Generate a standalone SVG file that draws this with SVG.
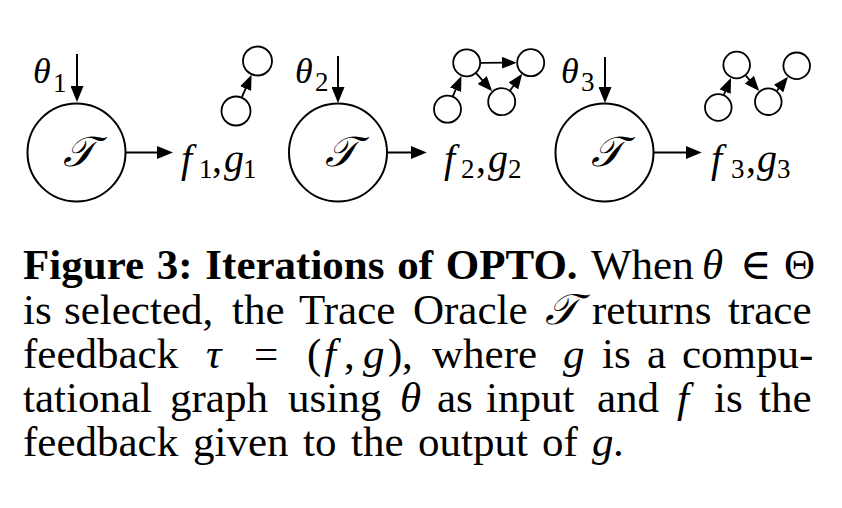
<svg xmlns="http://www.w3.org/2000/svg" width="842" height="508" viewBox="0 0 842 508">
<defs>
<style>
text{font-family:"Liberation Serif","DejaVu Serif",serif;fill:#000}
.it{font-style:italic}
.b{font-weight:bold}
.oc{fill:#fff;stroke:#000;stroke-width:2}
.sc{fill:#fff;stroke:#000;stroke-width:1.8}
.big{stroke:#000;stroke-width:2;fill:none;marker-end:url(#ah)}
.sm{stroke:#000;stroke-width:1.8;fill:none;marker-end:url(#ahs)}
.cal{font-size:42px;font-style:italic;text-anchor:middle}
.th{font-size:36px;font-style:italic}
.sub{font-size:27px;font-style:normal}
.fg{font-size:40px}
.cap{font-size:43px}
</style>
<marker id="ah" markerUnits="userSpaceOnUse" markerWidth="16" markerHeight="13" refX="6" refY="6.5" orient="auto"><path d="M0,0 L16,6.5 L0,13 z" fill="#000"/></marker>
<marker id="ahs" markerUnits="userSpaceOnUse" markerWidth="15" markerHeight="12" refX="7" refY="6" orient="auto"><path d="M0,0 L15,6 L0,12 z" fill="#000"/></marker>
</defs>
<rect width="842" height="508" fill="#fff"/>

<g id="connectors">
<line class="big" x1="77" y1="54" x2="77" y2="92"/>
<line class="big" x1="126" y1="152.5" x2="163" y2="152.5"/>
<line class="big" x1="338" y1="56" x2="338" y2="93"/>
<line class="big" x1="387.5" y1="152.5" x2="416.7" y2="152.5"/>
<line class="big" x1="605" y1="57" x2="605" y2="93"/>
<line class="big" x1="654" y1="152.5" x2="691.7" y2="152.5"/>
<line class="sm" x1="241.9" y1="97.2" x2="248.4" y2="82.2"/>
<line class="sm" x1="452.8" y1="96.3" x2="458.3" y2="83.3"/>
<line class="sm" x1="480.7" y1="62.8" x2="508.7" y2="62.7"/>
<line class="sm" x1="476.1" y1="73.2" x2="486.9" y2="85.3"/>
<line class="sm" x1="510.1" y1="90.5" x2="517.5" y2="80.3"/>
<line class="sm" x1="723.9" y1="94.6" x2="727.9" y2="85.2"/>
<line class="sm" x1="745.8" y1="75.6" x2="754" y2="85"/>
<line class="sm" x1="777" y1="90.7" x2="783" y2="83.1"/>
</g>

<g id="oracle1"><circle class="oc" cx="76.5" cy="152.5" r="49"/><text class="cal" x="79" y="166">𝒯</text></g>
<g id="oracle2"><circle class="oc" cx="338" cy="152.5" r="49"/><text class="cal" x="340.5" y="166">𝒯</text></g>
<g id="oracle3"><circle class="oc" cx="604.5" cy="152.5" r="49"/><text class="cal" x="607" y="166">𝒯</text></g>

<g id="theta1"><text class="th" x="33" y="83">θ</text><text class="sub" x="53" y="92">1</text></g>
<g id="theta2"><text class="th" x="295" y="83">θ</text><text class="sub" x="315" y="91">2</text></g>
<g id="theta3"><text class="th" x="561" y="83">θ</text><text class="sub" x="581" y="91">3</text></g>

<g id="fg1"><text class="fg" y="172"><tspan class="it" x="181">f</tspan><tspan class="sub" x="199" y="178">1</tspan><tspan x="212" y="172">,</tspan><tspan class="it" x="224">g</tspan><tspan class="sub" x="243" y="178">1</tspan></text></g>
<g id="fg2"><text class="fg" y="172"><tspan class="it" x="444">f</tspan><tspan class="sub" x="461" y="178">2</tspan><tspan x="476" y="172">,</tspan><tspan class="it" x="488">g</tspan><tspan class="sub" x="508" y="178">2</tspan></text></g>
<g id="fg3"><text class="fg" y="172"><tspan class="it" x="711">f</tspan><tspan class="sub" x="731" y="178">3</tspan><tspan x="746" y="172">,</tspan><tspan class="it" x="757">g</tspan><tspan class="sub" x="777" y="178">3</tspan></text></g>

<g id="graph1">
<circle id="g1a" class="sc" cx="257.5" cy="61" r="14.5"/>
<circle id="g1b" class="sc" cx="236" cy="111" r="14.5"/>
</g>
<g id="graph2">
<circle id="g2a" class="sc" cx="466.7" cy="62.8" r="13.5"/>
<circle id="g2b" class="sc" cx="530.7" cy="62.7" r="13.5"/>
<circle id="g2c" class="sc" cx="501.7" cy="101.7" r="13.5"/>
<circle id="g2d" class="sc" cx="447.5" cy="109.2" r="13.5"/>
</g>
<g id="graph3">
<circle id="g3a" class="sc" cx="736.7" cy="65" r="13.3"/>
<circle id="g3b" class="sc" cx="796.7" cy="65.8" r="13.3"/>
<circle id="g3c" class="sc" cx="768.3" cy="101.7" r="13.3"/>
<circle id="g3d" class="sc" cx="718.3" cy="107.5" r="13.3"/>
</g>

<g id="caption" class="cap">
<text y="279"><tspan x="23" class="b" word-spacing="2">Figure 3: Iterations of OPTO. </tspan><tspan x="591">When </tspan><tspan x="702" class="it">θ </tspan><tspan x="740">∈</tspan><tspan x="784">Θ</tspan></text>
<text y="323.5"><tspan x="23">is </tspan><tspan x="64">selected, </tspan><tspan x="232">the </tspan><tspan x="299">Trace </tspan><tspan x="413">Oracle </tspan><tspan x="545" class="it">𝒯 </tspan><tspan x="592">returns </tspan><tspan x="728">trace</tspan></text>
<text y="368"><tspan x="23">feedback </tspan><tspan x="206" class="it">τ </tspan><tspan x="254">= </tspan><tspan x="307">(</tspan><tspan x="324" class="it">f</tspan><tspan x="344">,</tspan><tspan x="363" class="it">g</tspan><tspan x="388">)</tspan><tspan x="402">, </tspan><tspan x="432">where </tspan><tspan x="563" class="it">g </tspan><tspan x="602">is </tspan><tspan x="647">a </tspan><tspan x="682">compu-</tspan></text>
<text y="412"><tspan x="23">tational </tspan><tspan x="170">graph </tspan><tspan x="288">using </tspan><tspan x="400" class="it">θ </tspan><tspan x="437">as </tspan><tspan x="486">input </tspan><tspan x="597">and </tspan><tspan x="677" class="it">f </tspan><tspan x="714">is </tspan><tspan x="759">the</tspan></text>
<text y="456"><tspan x="23">feedback </tspan><tspan x="193">given </tspan><tspan x="303">to </tspan><tspan x="351">the </tspan><tspan x="418">output </tspan><tspan x="542">of </tspan><tspan x="592" class="it">g</tspan><tspan x="613">.</tspan></text>
</g>
</svg>
